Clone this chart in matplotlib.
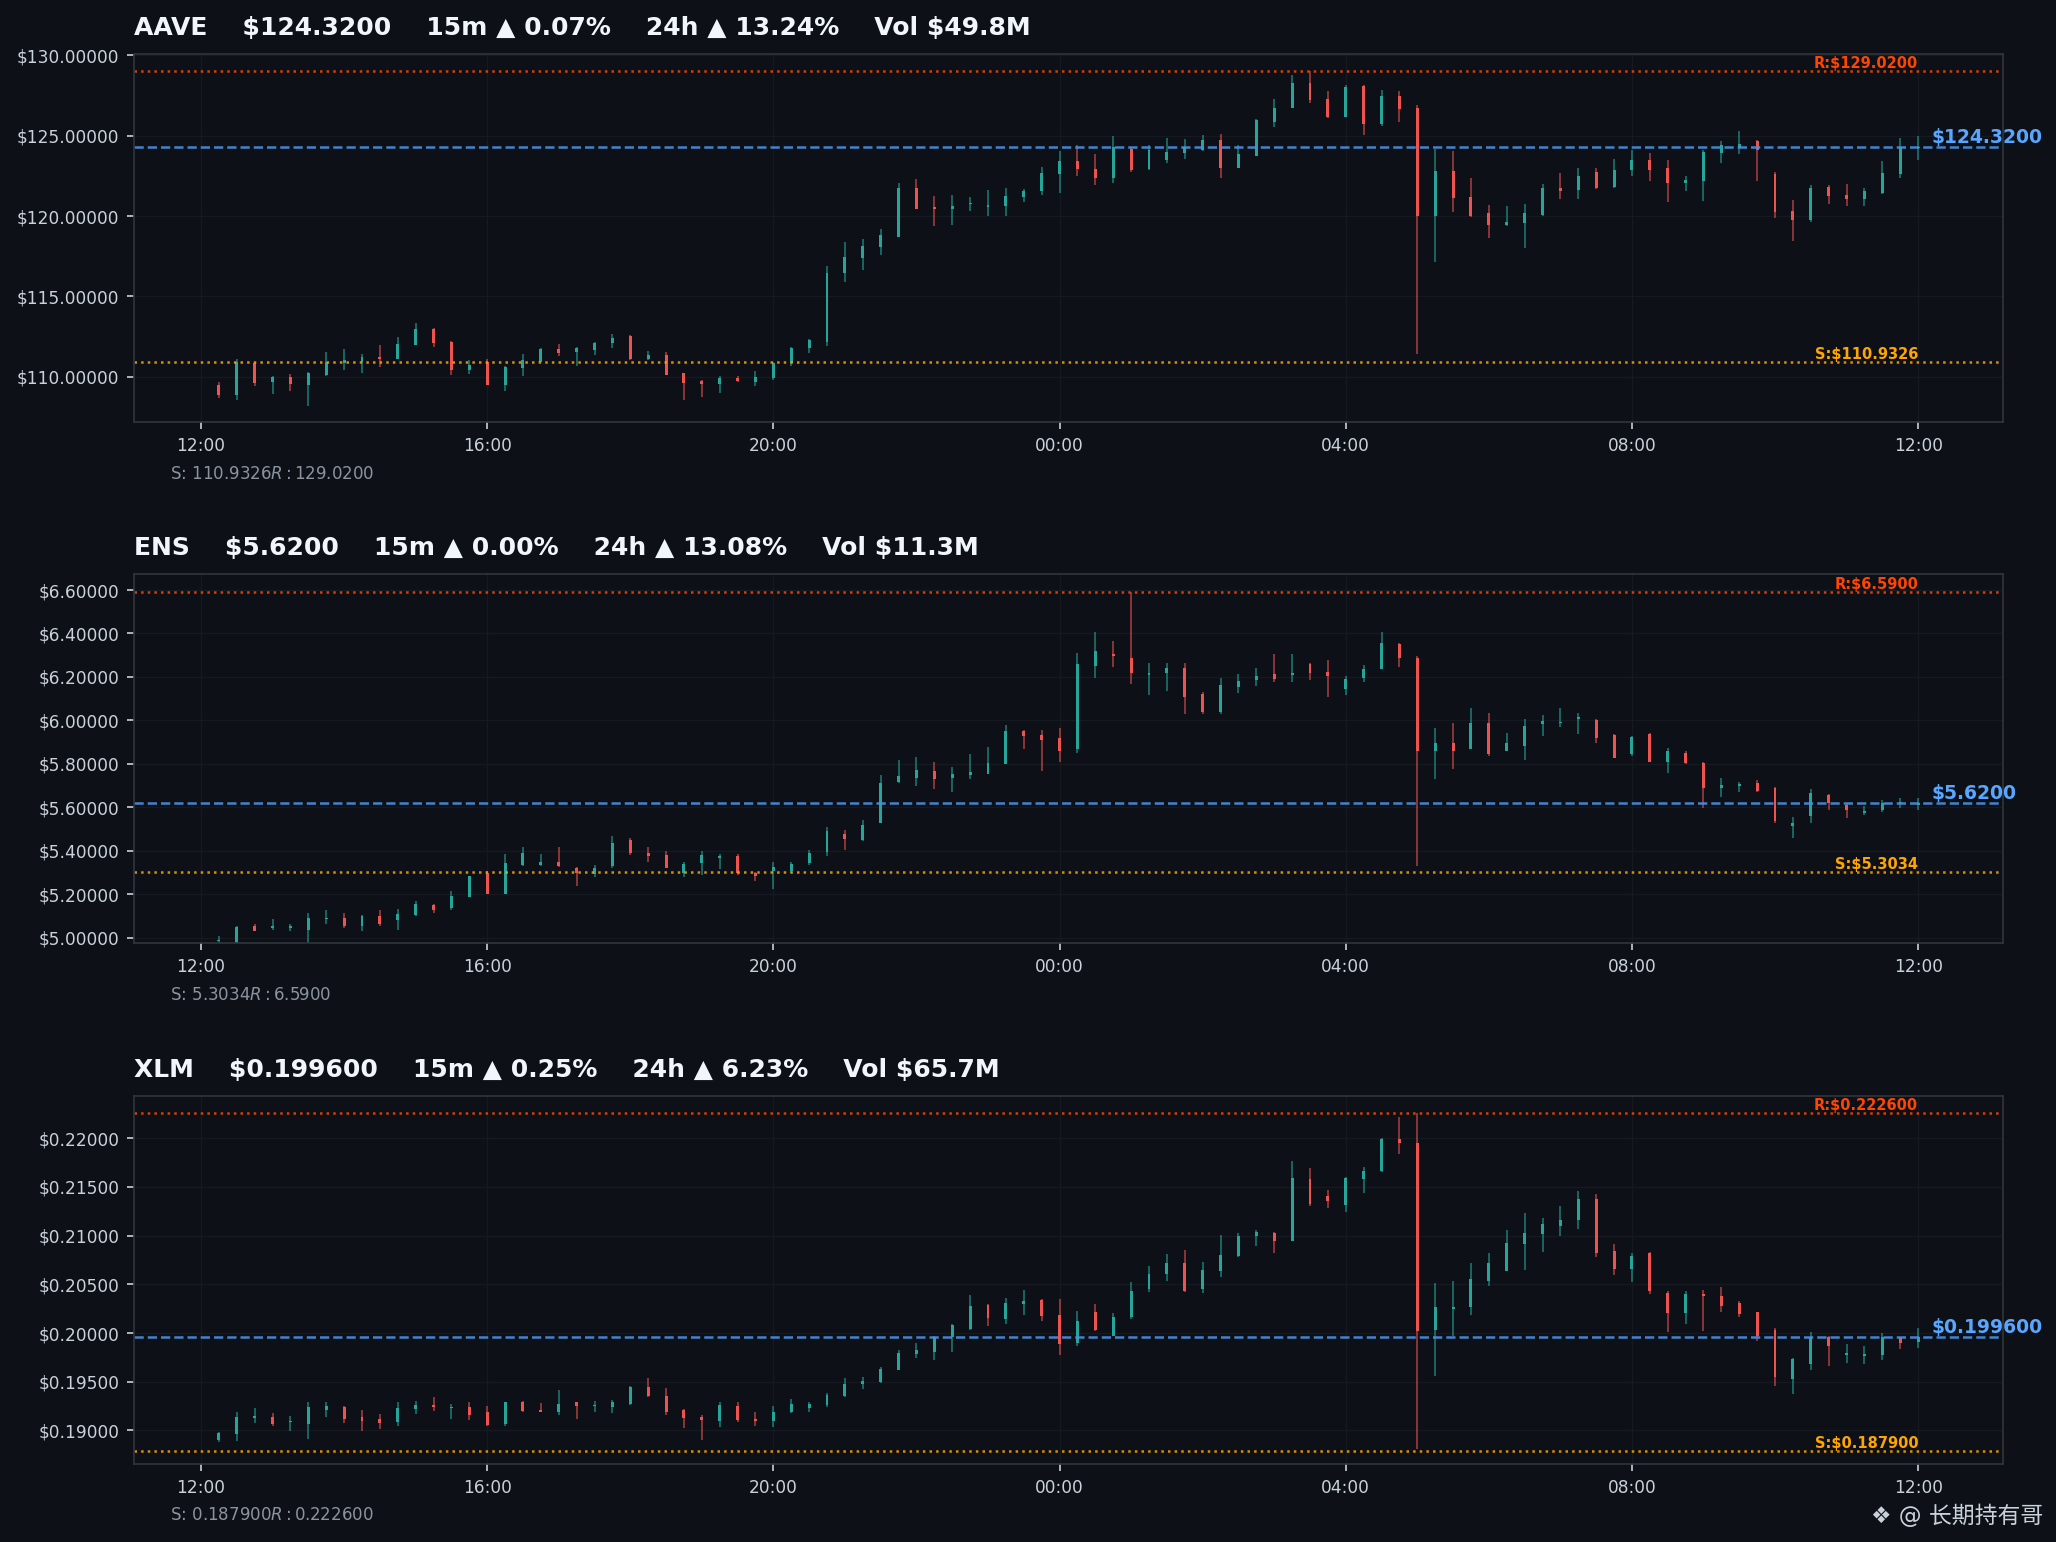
import pandas as pd
import matplotlib
matplotlib.use("Agg")
import matplotlib.pyplot as plt
import matplotlib.dates as mdates
from matplotlib.ticker import FuncFormatter

plt.rcParams['font.family'] = ['DejaVu Sans', 'Noto Sans CJK SC']

# 15-minute candles, 12:15 -> 12:00 next day
times = pd.date_range('2025-01-01 12:15', periods=96, freq='15min')

aave_open = [109.50, 108.88, 110.85, 109.71, 110.02, 109.50, 110.12, 110.85, 110.95, 111.26, 111.14, 111.99,
             113.00, 112.15, 110.43, 110.95, 109.50, 110.54, 110.95, 111.74, 111.57, 111.68, 112.09, 112.54,
             111.10, 111.36, 110.23, 109.75, 109.57, 109.92, 109.71, 109.92, 110.85, 111.78, 112.19, 116.43,
             117.40, 118.09, 118.71, 121.75, 120.57, 120.44, 120.73, 120.57, 120.61, 121.19, 121.56, 122.64,
             123.40, 122.95, 122.39, 124.19, 122.95, 123.51, 123.92, 124.13, 124.71, 123.01, 123.71, 125.84,
             126.69, 128.26, 127.29, 126.19, 128.06, 125.70, 127.44, 126.73, 119.99, 122.80, 121.19, 120.16,
             119.43, 119.58, 120.05, 121.77, 121.60, 122.74, 121.81, 122.84, 123.46, 123.01, 122.06, 122.18,
             123.92, 124.25, 124.66, 122.64, 120.30, 119.74, 121.81, 121.33, 121.09, 121.44, 122.60, 124.25]
aave_high = [109.69, 111.12, 110.95, 110.06, 110.19, 110.31, 111.55, 111.74, 111.43, 111.99, 112.50, 113.33,
             113.02, 112.23, 111.05, 111.12, 110.68, 111.43, 111.82, 112.05, 111.84, 112.17, 112.67, 112.61,
             111.61, 111.55, 110.27, 109.81, 110.06, 110.06, 110.37, 110.93, 111.88, 112.36, 116.89, 118.38,
             118.56, 119.18, 122.06, 122.29, 121.25, 121.29, 121.17, 121.60, 121.73, 121.66, 123.05, 124.02,
             124.44, 123.88, 124.95, 124.29, 124.40, 124.87, 124.81, 125.02, 125.12, 124.44, 126.01, 127.29,
             128.80, 129.02, 127.75, 128.12, 128.12, 127.81, 127.75, 126.88, 124.15, 124.02, 122.37, 120.67,
             120.61, 120.78, 122.02, 122.70, 123.01, 123.01, 123.53, 124.08, 123.94, 123.46, 122.47, 124.08,
             124.64, 125.26, 124.71, 122.72, 120.98, 121.95, 121.95, 122.02, 121.73, 123.40, 124.87, 124.95]
aave_low = [108.66, 108.57, 109.46, 108.94, 109.15, 108.16, 110.06, 110.43, 110.21, 110.64, 111.10, 111.99,
            111.88, 110.12, 110.19, 109.50, 109.15, 110.06, 110.95, 111.32, 110.68, 111.39, 111.82, 111.05,
            111.05, 110.12, 108.57, 108.76, 108.99, 109.71, 109.44, 109.81, 110.68, 111.49, 111.92, 115.92,
            116.64, 117.59, 118.71, 120.44, 119.39, 119.43, 120.32, 119.99, 119.99, 120.88, 121.29, 121.44,
            122.47, 121.91, 122.06, 122.74, 122.84, 123.30, 123.53, 124.04, 122.35, 122.97, 123.71, 125.53,
            126.69, 127.02, 126.09, 126.19, 125.02, 125.57, 125.88, 111.43, 117.16, 120.26, 119.95, 118.65,
            119.39, 118.02, 119.99, 121.06, 121.04, 121.67, 121.77, 122.47, 122.18, 120.88, 121.56, 120.94,
            123.30, 123.84, 122.18, 119.89, 118.46, 119.64, 120.73, 120.63, 120.63, 121.40, 122.37, 123.51]
aave_close = [108.88, 110.95, 109.61, 110.02, 109.57, 110.27, 110.95, 111.05, 111.26, 111.14, 112.05, 113.00,
              112.09, 110.43, 110.74, 109.50, 110.64, 111.05, 111.76, 111.47, 111.78, 112.09, 112.40, 111.10,
              111.36, 110.12, 109.61, 109.55, 109.96, 109.75, 110.02, 110.85, 111.82, 112.30, 116.47, 117.47,
              118.13, 118.81, 121.75, 120.44, 120.44, 120.61, 120.82, 120.67, 121.25, 121.56, 122.68, 123.40,
              122.91, 122.39, 124.29, 122.84, 124.08, 123.98, 124.29, 124.75, 123.01, 123.88, 125.95, 126.73,
              128.26, 127.19, 126.19, 128.01, 125.70, 127.44, 126.63, 119.99, 122.80, 121.13, 120.01, 119.43,
              119.64, 120.16, 121.77, 121.56, 122.47, 121.75, 122.84, 123.46, 122.84, 122.06, 122.22, 123.98,
              124.40, 124.50, 124.08, 120.26, 119.74, 121.77, 121.25, 121.09, 121.56, 122.68, 124.29, 124.32]

ens_open = [4.985, 4.970, 5.054, 5.043, 5.043, 5.035, 5.086, 5.092, 5.055, 5.100, 5.082, 5.105,
            5.148, 5.135, 5.185, 5.297, 5.200, 5.335, 5.335, 5.349, 5.320, 5.294, 5.328, 5.451,
            5.389, 5.382, 5.297, 5.343, 5.365, 5.374, 5.297, 5.308, 5.305, 5.343, 5.392, 5.478,
            5.451, 5.528, 5.715, 5.735, 5.766, 5.735, 5.746, 5.755, 5.797, 5.951, 5.932, 5.920,
            5.866, 6.248, 6.305, 6.289, 6.208, 6.217, 6.240, 6.120, 6.038, 6.155, 6.186, 6.212,
            6.208, 6.258, 6.223, 6.143, 6.197, 6.235, 6.351, 6.289, 5.858, 5.897, 5.866, 5.989,
            5.858, 5.882, 5.982, 5.986, 6.008, 6.002, 5.932, 5.843, 5.935, 5.808, 5.851, 5.802,
            5.689, 5.697, 5.712, 5.689, 5.512, 5.558, 5.658, 5.612, 5.574, 5.589, 5.617, 5.612]
ens_high = [5.005, 5.055, 5.063, 5.086, 5.063, 5.115, 5.125, 5.115, 5.105, 5.125, 5.132, 5.166,
            5.155, 5.215, 5.285, 5.305, 5.386, 5.415, 5.386, 5.415, 5.325, 5.335, 5.466, 5.457,
            5.415, 5.397, 5.346, 5.397, 5.386, 5.386, 5.302, 5.346, 5.346, 5.405, 5.508, 5.497,
            5.543, 5.746, 5.815, 5.832, 5.808, 5.785, 5.843, 5.877, 5.977, 5.955, 5.954, 5.963,
            6.312, 6.408, 6.366, 6.590, 6.263, 6.263, 6.263, 6.132, 6.194, 6.215, 6.243, 6.305,
            6.305, 6.262, 6.277, 6.202, 6.254, 6.408, 6.355, 6.294, 5.963, 5.986, 6.055, 6.035,
            5.943, 6.005, 6.023, 6.055, 6.035, 6.005, 5.935, 5.928, 5.943, 5.874, 5.858, 5.808,
            5.735, 5.715, 5.723, 5.694, 5.555, 5.686, 5.662, 5.615, 5.605, 5.635, 5.643, 5.643]
ens_low = [4.960, 4.950, 5.028, 5.035, 5.028, 4.975, 5.063, 5.046, 5.028, 5.055, 5.035, 5.097,
           5.115, 5.125, 5.185, 5.200, 5.200, 5.328, 5.328, 5.323, 5.235, 5.278, 5.320, 5.378,
           5.346, 5.318, 5.278, 5.286, 5.317, 5.286, 5.258, 5.225, 5.297, 5.335, 5.377, 5.405,
           5.446, 5.525, 5.712, 5.697, 5.686, 5.669, 5.728, 5.755, 5.797, 5.866, 5.766, 5.808,
           5.851, 6.195, 6.246, 6.166, 6.117, 6.135, 6.028, 6.028, 6.028, 6.125, 6.158, 6.177,
           6.177, 6.186, 6.108, 6.117, 6.177, 6.235, 6.246, 5.328, 5.728, 5.774, 5.866, 5.835,
           5.858, 5.817, 5.928, 5.969, 5.935, 5.897, 5.825, 5.835, 5.808, 5.758, 5.800, 5.597,
           5.646, 5.669, 5.669, 5.528, 5.458, 5.528, 5.589, 5.551, 5.566, 5.577, 5.597, 5.586]
ens_close = [4.990, 5.048, 5.032, 5.054, 5.054, 5.092, 5.092, 5.051, 5.100, 5.063, 5.109, 5.154,
             5.125, 5.189, 5.282, 5.200, 5.343, 5.389, 5.349, 5.331, 5.297, 5.320, 5.435, 5.389,
             5.377, 5.318, 5.338, 5.382, 5.374, 5.297, 5.282, 5.323, 5.340, 5.389, 5.489, 5.454,
             5.520, 5.712, 5.743, 5.769, 5.728, 5.751, 5.762, 5.805, 5.951, 5.928, 5.909, 5.858,
             6.258, 6.320, 6.297, 6.217, 6.220, 6.240, 6.108, 6.038, 6.162, 6.182, 6.202, 6.189,
             6.220, 6.220, 6.205, 6.189, 6.238, 6.358, 6.288, 5.858, 5.897, 5.858, 5.989, 5.843,
             5.897, 5.974, 5.997, 5.991, 6.017, 5.920, 5.828, 5.923, 5.808, 5.858, 5.805, 5.689,
             5.700, 5.709, 5.674, 5.535, 5.525, 5.666, 5.620, 5.586, 5.582, 5.620, 5.623, 5.620]

xlm_open = [0.18905, 0.18963, 0.19127, 0.19134, 0.19083, 0.19066, 0.19213, 0.19244, 0.19134, 0.19117, 0.19083, 0.19220,
            0.19261, 0.19226, 0.19244, 0.19185, 0.19066, 0.19288, 0.19213, 0.19192, 0.19288, 0.19247, 0.19237, 0.19271,
            0.19442, 0.19356, 0.19209, 0.19141, 0.19100, 0.19254, 0.19117, 0.19100, 0.19185, 0.19226, 0.19261, 0.19356,
            0.19476, 0.19493, 0.19623, 0.19784, 0.19801, 0.19955, 0.20040, 0.20287, 0.20143, 0.20297, 0.20341, 0.20184,
            0.19897, 0.20218, 0.19972, 0.20160, 0.20451, 0.20605, 0.20724, 0.20451, 0.20639, 0.20793, 0.20998, 0.21025,
            0.20947, 0.21579, 0.21408, 0.21316, 0.21579, 0.21665, 0.21990, 0.21956, 0.20034, 0.20245, 0.20263, 0.20536,
            0.20639, 0.20912, 0.21015, 0.21100, 0.21162, 0.21374, 0.20844, 0.20656, 0.20827, 0.20410, 0.20205, 0.20399,
            0.20382, 0.20304, 0.20211, 0.20034, 0.19527, 0.19681, 0.19955, 0.19774, 0.19767, 0.19774, 0.19945, 0.19910]
xlm_high = [0.18987, 0.19192, 0.19230, 0.19179, 0.19151, 0.19295, 0.19295, 0.19254, 0.19213, 0.19168, 0.19288, 0.19305,
            0.19346, 0.19271, 0.19288, 0.19254, 0.19295, 0.19305, 0.19281, 0.19418, 0.19295, 0.19305, 0.19315, 0.19459,
            0.19541, 0.19432, 0.19220, 0.19158, 0.19288, 0.19295, 0.19192, 0.19254, 0.19322, 0.19295, 0.19384, 0.19541,
            0.19544, 0.19654, 0.19825, 0.19897, 0.19965, 0.20092, 0.20389, 0.20297, 0.20358, 0.20444, 0.20348, 0.20348,
            0.20228, 0.20297, 0.20201, 0.20526, 0.20690, 0.20810, 0.20851, 0.20731, 0.21008, 0.21025, 0.21060, 0.21039,
            0.21767, 0.21692, 0.21470, 0.21603, 0.21706, 0.22007, 0.22219, 0.22260, 0.20512, 0.20536, 0.20718, 0.20820,
            0.21060, 0.21231, 0.21179, 0.21306, 0.21460, 0.21425, 0.20912, 0.20827, 0.20837, 0.20434, 0.20434, 0.20441,
            0.20468, 0.20331, 0.20218, 0.20047, 0.19739, 0.20013, 0.19972, 0.19886, 0.19869, 0.19996, 0.19955, 0.20054]
xlm_low = [0.18878, 0.18895, 0.19072, 0.19049, 0.18997, 0.18912, 0.19134, 0.19076, 0.18997, 0.19014, 0.19049, 0.19168,
           0.19203, 0.19117, 0.19110, 0.19049, 0.19042, 0.19185, 0.19185, 0.19158, 0.19117, 0.19192, 0.19179, 0.19261,
           0.19346, 0.19158, 0.19025, 0.18905, 0.19038, 0.19083, 0.19049, 0.19038, 0.19179, 0.19192, 0.19244, 0.19339,
           0.19425, 0.19486, 0.19620, 0.19746, 0.19726, 0.19808, 0.20034, 0.20075, 0.20092, 0.20184, 0.20126, 0.19774,
           0.19869, 0.20023, 0.19972, 0.20143, 0.20423, 0.20536, 0.20417, 0.20406, 0.20577, 0.20776, 0.20895, 0.20827,
           0.20947, 0.21306, 0.21289, 0.21244, 0.21443, 0.21655, 0.21836, 0.18809, 0.19555, 0.19965, 0.20184, 0.20485,
           0.20639, 0.20649, 0.20834, 0.20998, 0.21073, 0.20782, 0.20598, 0.20519, 0.20399, 0.20006, 0.20092, 0.20023,
           0.20218, 0.20167, 0.19921, 0.19459, 0.19374, 0.19623, 0.19664, 0.19692, 0.19681, 0.19726, 0.19835, 0.19842]
xlm_close = [0.18970, 0.19141, 0.19151, 0.19066, 0.19100, 0.19237, 0.19254, 0.19117, 0.19100, 0.19076, 0.19226, 0.19261,
             0.19237, 0.19244, 0.19158, 0.19055, 0.19288, 0.19203, 0.19192, 0.19271, 0.19254, 0.19261, 0.19288, 0.19442,
             0.19356, 0.19192, 0.19127, 0.19107, 0.19261, 0.19110, 0.19100, 0.19185, 0.19271, 0.19271, 0.19363, 0.19476,
             0.19510, 0.19630, 0.19794, 0.19828, 0.19955, 0.20081, 0.20280, 0.20150, 0.20307, 0.20328, 0.20177, 0.19886,
             0.20126, 0.20034, 0.20160, 0.20434, 0.20605, 0.20724, 0.20434, 0.20649, 0.20800, 0.20998, 0.21039, 0.20947,
             0.21596, 0.21323, 0.21357, 0.21596, 0.21665, 0.21997, 0.21949, 0.20023, 0.20263, 0.20263, 0.20553, 0.20724,
             0.20923, 0.21025, 0.21118, 0.21162, 0.21374, 0.20827, 0.20656, 0.20793, 0.20434, 0.20205, 0.20399, 0.20376,
             0.20280, 0.20194, 0.19972, 0.19544, 0.19733, 0.19955, 0.19869, 0.19794, 0.19784, 0.19955, 0.19897, 0.19960]

symbols = ['AAVE', 'ENS', 'XLM']
decimals = [4, 4, 6]
last_prices = [124.32, 5.62, 0.1996]
support = [110.9326, 5.3034, 0.1879]
resistance = [129.02, 6.59, 0.2226]
chg_15m = ['0.07%', '0.00%', '0.25%']
chg_24h = ['13.24%', '13.08%', '6.23%']
volumes = ['$49.8M', '$11.3M', '$65.7M']

ohlc = {
    'AAVE': (aave_open, aave_high, aave_low, aave_close),
    'ENS': (ens_open, ens_high, ens_low, ens_close),
    'XLM': (xlm_open, xlm_high, xlm_low, xlm_close),
}
ylims = {'AAVE': (107.19, 130.08), 'ENS': (4.975, 6.674), 'XLM': (0.18655, 0.22434)}

BG = '#0d1117'
UP = '#26a69a'
DOWN = '#ef5350'

fig = plt.figure(figsize=(2056 / 150, 1542 / 150), dpi=150, facecolor=BG)
axes_rects = [
    [0.0652, 0.7263, 0.9090, 0.2387],
    [0.0652, 0.3885, 0.9090, 0.2393],
    [0.0652, 0.0506, 0.9090, 0.2386],
]

x = mdates.date2num(times)
for i, sym in enumerate(symbols):
    ax = fig.add_axes(axes_rects[i])
    ax.set_facecolor(BG)
    o, h, l, c = ohlc[sym]
    colors = [UP if cc >= oo else DOWN for oo, cc in zip(o, c)]

    # wicks, then bodies
    ax.vlines(x, l, h, colors=colors, linewidth=0.8, alpha=0.65)
    bottoms = [min(oo, cc) for oo, cc in zip(o, c)]
    heights = [abs(cc - oo) for oo, cc in zip(o, c)]
    span = ylims[sym][1] - ylims[sym][0]
    heights = [max(hh, span * 0.002) for hh in heights]
    ax.bar(x, heights, width=0.0017, bottom=bottoms, color=colors, linewidth=0)

    d = decimals[i]
    fmt = '{:.%df}' % d
    ax.axhline(resistance[i], color='#ff4500', linestyle=':', linewidth=1.2, alpha=0.85)
    ax.axhline(support[i], color='#ffa500', linestyle=':', linewidth=1.2, alpha=0.85)
    ax.axhline(last_prices[i], color='#4a90e2', linestyle='--', linewidth=1.2, alpha=0.9)

    ax.text(x[-1], resistance[i], 'R:\\$' + fmt.format(resistance[i]), color='#ff4500',
            fontsize=7, fontweight='bold', ha='right', va='bottom')
    ax.text(x[-1], support[i], 'S:\\$' + fmt.format(support[i]), color='#ffa500',
            fontsize=7, fontweight='bold', ha='right', va='bottom')
    ax.text(0.9615, last_prices[i], '\\$' + fmt.format(last_prices[i]), color='#58a6ff',
            fontsize=9, fontweight='bold', ha='left', va='bottom',
            transform=ax.get_yaxis_transform())

    title = ('{}    \\${}    15m \u25b2 {}    24h \u25b2 {}    Vol \\{}'
             .format(sym, fmt.format(last_prices[i]), chg_15m[i], chg_24h[i], volumes[i]))
    ax.set_title(title, loc='left', color='#f0f6fc', fontsize=12, fontweight='bold', pad=9)

    # info line (kept as in the original, dollar signs parsed as math)
    ax.text(0.019, -0.14, 'S: $' + fmt.format(support[i]) + ' R: $' + fmt.format(resistance[i]),
            transform=ax.transAxes, color='#8b949e', fontsize=8, ha='left', va='center')

    ax.set_ylim(*ylims[sym])
    ax.set_xlim(x[0] - 0.0494, x[-1] + 0.0494)
    ax.xaxis.set_major_locator(mdates.HourLocator(byhour=[0, 4, 8, 12, 16, 20]))
    ax.xaxis.set_major_formatter(mdates.DateFormatter('%H:%M'))
    ax.yaxis.set_major_formatter(FuncFormatter(lambda v, p: '\\$' + '{:.5f}'.format(v)))
    ax.tick_params(colors='#c9d1d9', labelsize=8.2, length=3.5)
    ax.grid(True, color='#151a21', linewidth=0.6)
    ax.set_axisbelow(True)
    for s in ax.spines.values():
        s.set_color('#30363d')

fig.text(0.994, 0.009, '\u2756 @ 长期持有哥', color='#c9d1d9', fontsize=11,
         ha='right', va='bottom', family=['DejaVu Sans', 'Noto Sans CJK SC'])

fig.savefig('out.png', dpi=150, facecolor=BG)
